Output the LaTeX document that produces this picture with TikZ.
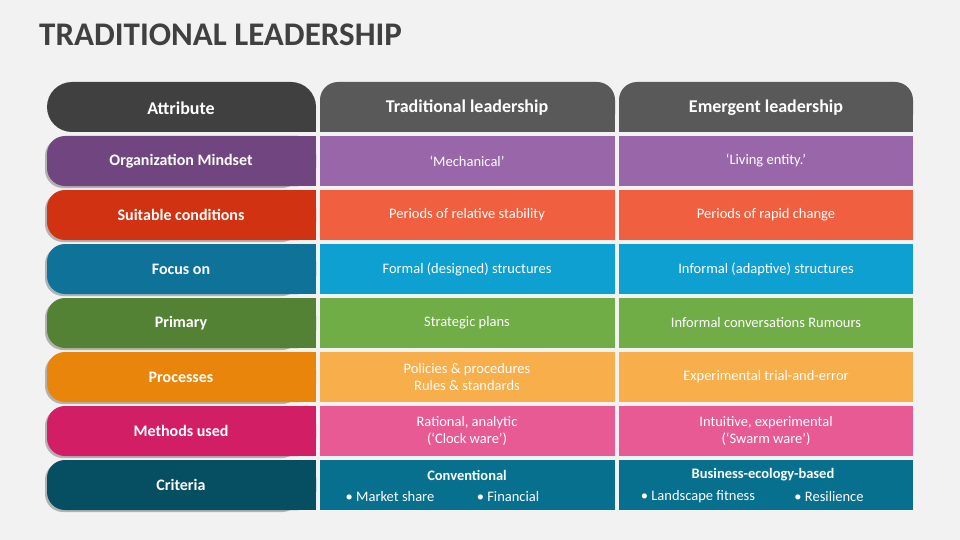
\documentclass[tikz,border=0pt]{standalone}
\usepackage{fontspec}
\setmainfont{Carlito}
\begin{document}
\begin{tikzpicture}[x=1pt,y=-1pt,
  txt/.style={text=white,font=\fontsize{14.5}{17}\selectfont,align=center},
  htxt/.style={text=white,font=\bfseries\fontsize{18}{21}\selectfont},
  ltxt/.style={text=white,font=\bfseries\fontsize{16}{19}\selectfont}]
\definecolor{bg}{HTML}{F2F2F2}
\fill[bg] (0,0) rectangle (960,540);
\useasboundingbox (0,0) rectangle (960,540);
\node[anchor=base west,text=black!75,font=\bfseries\fontsize{33}{36}\selectfont,inner sep=0] (title) at (39,46) {TRADITIONAL LEADERSHIP};
% header
\fill[black!75,rounded corners=25] (47,82) rectangle (316,132);
\fill[black!75] (200,107) rectangle (316,132);
\fill[black!65,rounded corners=18] (320,82) rectangle (615,132);
\fill[black!65] (320,110) rectangle (615,132);
\fill[black!65,rounded corners=18] (619,82) rectangle (913,132);
\fill[black!65] (619,110) rectangle (913,132);
\node[htxt] (h1) at (181,108) {Attribute};
\node[htxt] (h2) at (467,108) {Traditional leadership};
\node[htxt] (h3) at (766,108) {Emergent leadership};
% rows
\foreach \i/\L/\R/\lab/\a/\b in {
 0/71457F/9966AA/Organization Mindset/{‘Mechanical’}/{‘Living entity.’},
 1/D13212/F06040/Suitable conditions/Periods of relative stability/Periods of rapid change,
 2/0E7299/0EA0D0/Focus on/Formal (designed) structures/Informal (adaptive) structures,
 3/548235/70AD47/Primary/Strategic plans/Informal conversations Rumours,
 4/E8850A/F8AE4A/Processes/{Policies \& procedures\\Rules \& standards}/Experimental trial-and-error,
 5/D11E64/E85A93/Methods used/{Rational, analytic\\(‘Clock ware’)}/{Intuitive, experimental\\(‘Swarm ware’)},
 6/064F63/08708F/Criteria/{}/{}}{
  \pgfmathsetmacro{\ya}{136+54*\i}
  \pgfmathsetmacro{\yb}{\ya+50}
  \pgfmathsetmacro{\yc}{\ya+25}
  \definecolor{cl}{HTML}{\L}\definecolor{cr}{HTML}{\R}
  \fill[black!30,rounded corners=18] (45,\ya+2) rectangle (300,\yb+2);
  \fill[cl,rounded corners=18] (47,\ya) rectangle (316,\yb);
  \fill[cl] (200,\ya) rectangle (316,\yb);
  \fill[cr] (320,\ya) rectangle (615,\yb);
  \fill[cr] (619,\ya) rectangle (913,\yb);
  \node[ltxt] (l\i) at (181,\yc) {\lab};
  \node[txt] (m\i) at (467,\yc) {\a};
  \node[txt] (n\i) at (766,\yc) {\b};
}
\node[txt,font=\bfseries\fontsize{14.5}{17}\selectfont] (c1) at (467,475) {Conventional};
\node[txt] (c2) at (390,497) {• Market share};
\node[txt] (c3) at (508,497) {• Financial};
\node[txt,font=\bfseries\fontsize{14.5}{17}\selectfont] (d1) at (763,475) {Business-ecology-based};
\node[txt] (d2) at (698,497) {• Landscape fitness};
\node[txt] (d3) at (829,497) {• Resilience};
\end{tikzpicture}
\end{document}
